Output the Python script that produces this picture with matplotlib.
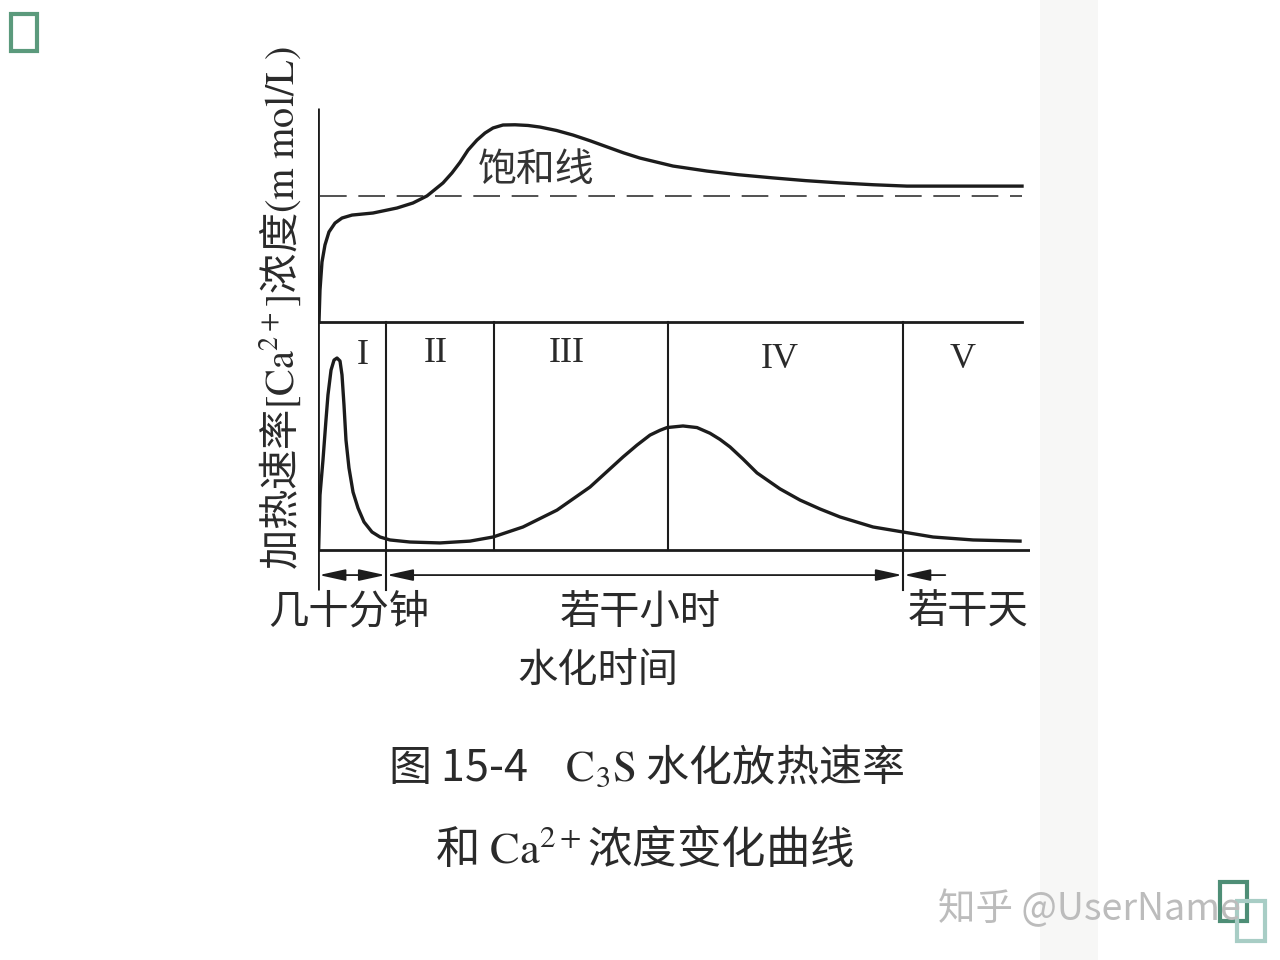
import matplotlib
matplotlib.use('Agg')
import matplotlib.pyplot as plt
from matplotlib.patches import Rectangle

plt.rcParams['font.family'] = ['Liberation Serif', 'Noto Sans CJK SC', 'DejaVu Sans']
plt.rcParams['mathtext.fontset'] = 'stix'

# --- data (time in arbitrary units 0-100) ---
# upper panel: Ca2+ concentration (panel spans y 1..2)
ca_time = [0.14, 0.28, 0.56, 0.98, 1.54, 2.39, 3.37, 4.78, 7.72, 11.1, 13.34, 15.31,
           17.56, 18.82, 19.94, 21.07, 22.33, 23.46, 24.58, 25.98, 27.67, 29.5, 31.18,
           33.5, 35.81, 38.2, 40.59, 42.9, 45.22, 49.86, 54.63, 59.0, 63.9, 68.5, 73.31,
           78.0, 82.72, 98.88]
ca_conc = [1.0, 1.14, 1.263, 1.338, 1.395, 1.434, 1.456, 1.469, 1.478, 1.50, 1.522, 1.553,
           1.61, 1.654, 1.70, 1.754, 1.798, 1.829, 1.851, 1.864, 1.865, 1.862, 1.855,
           1.84, 1.82, 1.795, 1.768, 1.742, 1.719, 1.684, 1.662, 1.646, 1.632, 1.62, 1.61,
           1.602, 1.596, 1.596]
saturation = 1.553

# lower panel: heat evolution rate (panel spans y 0..1)
heat_time = [0.1, 0.28, 0.70, 1.12, 1.40, 1.83, 2.25, 2.67, 3.09, 3.37, 3.65, 3.93, 4.35,
             4.92, 5.62, 6.46, 7.58, 8.71, 10.11, 12.92, 17.13, 21.35, 24.58, 28.79, 33.57,
             38.2, 42.84, 44.8, 46.63, 48.03, 49.02, 51.26, 53.23, 55.06, 56.46, 57.87,
             59.69, 61.66, 64.89, 67.7, 70.5, 73.31, 77.95, 82.16, 86.38, 92.0, 98.6]
heat_rate = [0.01, 0.241, 0.395, 0.57, 0.68, 0.789, 0.833, 0.842, 0.829, 0.768, 0.636,
             0.482, 0.36, 0.254, 0.184, 0.123, 0.079, 0.057, 0.044, 0.035, 0.031, 0.039,
             0.057, 0.101, 0.175, 0.276, 0.408, 0.46, 0.504, 0.525, 0.537, 0.544, 0.537,
             0.512, 0.485, 0.452, 0.399, 0.338, 0.268, 0.219, 0.18, 0.145, 0.101, 0.079,
             0.057, 0.044, 0.039]

stage_bounds = [9.55, 24.7, 49.2, 82.2]
stage_labels = ['I', 'II', 'III', 'IV', 'V']
stage_label_x = [6.3, 16.6, 34.9, 64.9, 90.6]
stage_label_y = [0.855, 0.862, 0.862, 0.835, 0.835]

period_labels = ['几十分钟', '若干小时', '若干天']

ink = '#1c1c1c'
txt = '#2a2a2a'

fig = plt.figure(figsize=(12.8, 9.6), dpi=100)
fig.patch.set_facecolor('white')
# faint shading at the page edge of the scan
fig.patches.append(Rectangle((1040 / 1280, 0), 58 / 1280, 1, transform=fig.transFigure,
                             facecolor='#f7f7f6', edgecolor='none', zorder=0))

ax = fig.add_axes([318 / 1280, 1 - 618.4 / 960, 712 / 1280, 524.4 / 960])
ax.set_xlim(0, 100)
ax.set_ylim(-0.3, 2.0)
ax.axis('off')

# frame
ax.plot([0, 0], [-0.175, 1.94], color=ink, lw=2.0, solid_capstyle='butt')
ax.plot([0, 98.9], [1, 1], color=ink, lw=2.0)
ax.plot([0, 100.4], [0, 0], color=ink, lw=2.0)
for i, b in enumerate(stage_bounds):
    lo = -0.175 if i in (0, 3) else 0
    ax.plot([b, b], [lo, 1], color=ink, lw=1.5)

# saturation line
ax.plot([0.3, 98.9], [saturation, saturation], color='#333333', lw=1.2,
        dashes=(16, 7))

# curves
ax.plot(ca_time, ca_conc, color=ink, lw=2.4, solid_joinstyle='round')
ax.plot(heat_time, heat_rate, color=ink, lw=2.4, solid_joinstyle='round')

# stage numerals
for lab, x, y in zip(stage_labels, stage_label_x, stage_label_y):
    ax.text(x, y, lab, ha='center', va='center', fontsize=26,
            family='Liberation Serif', color=txt)

ax.text(30.6, 1.665, '饱和线', ha='center', va='center', fontsize=28,
        family=['Noto Sans CJK SC'], color='#333333')

# time-span arrows
arr_y = -0.11
astyle = dict(color=ink, lw=1.3, shrinkA=0, shrinkB=0)
ax.annotate('', xy=(9.45, arr_y), xytext=(0.15, arr_y),
            arrowprops=dict(arrowstyle='<|-|>,head_length=1.6,head_width=0.35', **astyle))
ax.annotate('', xy=(82.05, arr_y), xytext=(9.65, arr_y),
            arrowprops=dict(arrowstyle='<|-|>,head_length=1.6,head_width=0.35', **astyle))
ax.annotate('', xy=(88.1, arr_y), xytext=(82.3, arr_y),
            arrowprops=dict(arrowstyle='<|-,head_length=1.6,head_width=0.35', **astyle))

# period labels and axis titles
cjk = ['Noto Sans CJK SC']
for lab, px in zip(period_labels, [349, 640, 968]):
    fig.text(px / 1280, 1 - 612 / 960, lab, ha='center', va='center', fontsize=29,
             family=cjk, color=txt)
fig.text(598 / 1280, 1 - 670 / 960, '水化时间', ha='center', va='center', fontsize=29,
         family=cjk, color=txt)
fig.text(280 / 1280, 1 - 308 / 960,
         r'加热速率$\mathrm{[Ca^{2+}]}$浓度$\mathrm{(m\ mol/L)}$',
         ha='center', va='center', rotation=90, fontsize=29, family=cjk, color=txt)

# caption
fig.text(646 / 1280, 1 - 768 / 960, r'图 15-4    $\mathrm{C_3S}$ 水化放热速率',
         ha='center', va='center', fontsize=31, family=cjk, color=txt)
fig.text(645 / 1280, 1 - 850 / 960, r'和 $\mathrm{Ca^{2+}}$浓度变化曲线',
         ha='center', va='center', fontsize=32, family=cjk, color=txt)

# watermark and corner marks
fig.text(938 / 1280, 1 - 910 / 960, '知乎 @UserName', ha='left', va='center',
         fontsize=27, family=['Noto Sans CJK SC'], color='#bcbcbc')
fig.patches.append(Rectangle((11 / 1280, 1 - 51 / 960), 26 / 1280, 37 / 960,
                             transform=fig.transFigure, fill=False,
                             edgecolor='#5b9a7c', lw=3))
fig.patches.append(Rectangle((1220 / 1280, 1 - 921 / 960), 27 / 1280, 39 / 960,
                             transform=fig.transFigure, fill=False,
                             edgecolor='#4e8e76', lw=3))
fig.patches.append(Rectangle((1237 / 1280, 1 - 941 / 960), 28 / 1280, 40 / 960,
                             transform=fig.transFigure, fill=False,
                             edgecolor='#a8cdc5', lw=3))

fig.savefig('out.png', dpi=100)
